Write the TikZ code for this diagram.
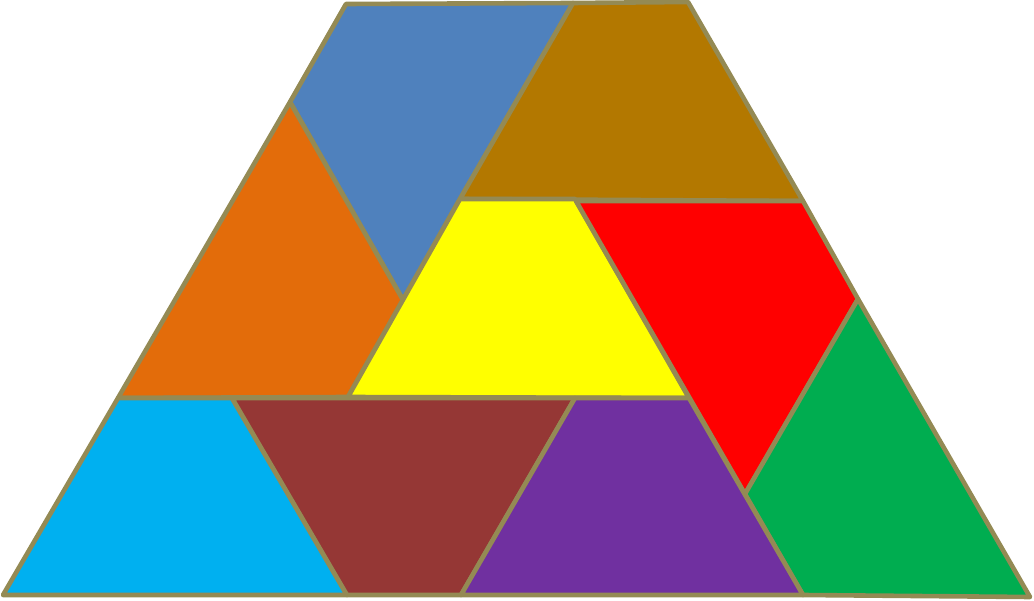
\documentclass[tikz,border=0pt]{standalone}
\begin{document}
\begin{tikzpicture}[x=1pt,y=-1pt,
  piece/.style={draw=edgecol,line width=4.6pt,line join=round}]
\definecolor{edgecol}{HTML}{948A54}
\definecolor{cblue}{HTML}{4F81BD}
\definecolor{cgold}{HTML}{B37800}
\definecolor{corange}{HTML}{E36C0A}
\definecolor{cyellow}{HTML}{FFFF00}
\definecolor{cred}{HTML}{FF0000}
\definecolor{cgreen}{HTML}{00AD50}
\definecolor{ccyan}{HTML}{00B0F0}
\definecolor{cmaroon}{HTML}{953735}
\definecolor{cpurple}{HTML}{7030A0}
\useasboundingbox (0,0) rectangle (1034,601);
\coordinate (A) at (346,4);
\coordinate (B) at (573,3);
\coordinate (C) at (688,2);
\coordinate (D) at (290,102);
\coordinate (E) at (460,199);
\coordinate (F) at (403,300);
\coordinate (G) at (803,201);
\coordinate (H) at (575,199);
\coordinate (I) at (576,201);
\coordinate (J) at (858,299);
\coordinate (K) at (118,398);
\coordinate (L) at (348,397);
\coordinate (M) at (689,398);
\coordinate (N) at (745,494);
\coordinate (O) at (232,398);
\coordinate (P) at (575,398);
\coordinate (Q) at (347,595);
\coordinate (R) at (461,595);
\coordinate (S) at (803,595);
\coordinate (T) at (3,595);
\coordinate (U) at (1030,597);
\filldraw[piece,fill=cblue] (A) -- (B) -- (E) -- (F) -- (D) -- cycle;
\filldraw[piece,fill=cgold] (B) -- (C) -- (G) -- (E) -- cycle;
\filldraw[piece,fill=corange] (D) -- (F) -- (L) -- (K) -- cycle;
\filldraw[piece,fill=cyellow] (E) -- (H) -- (M) -- (L) -- cycle;
\filldraw[piece,fill=cred] (I) -- (G) -- (J) -- (N) -- cycle;
\filldraw[piece,fill=cgreen] (J) -- (U) -- (S) -- (N) -- cycle;
\filldraw[piece,fill=ccyan] (K) -- (O) -- (Q) -- (T) -- cycle;
\filldraw[piece,fill=cmaroon] (O) -- (P) -- (R) -- (Q) -- cycle;
\filldraw[piece,fill=cpurple] (P) -- (M) -- (S) -- (R) -- cycle;
\end{tikzpicture}
\end{document}
